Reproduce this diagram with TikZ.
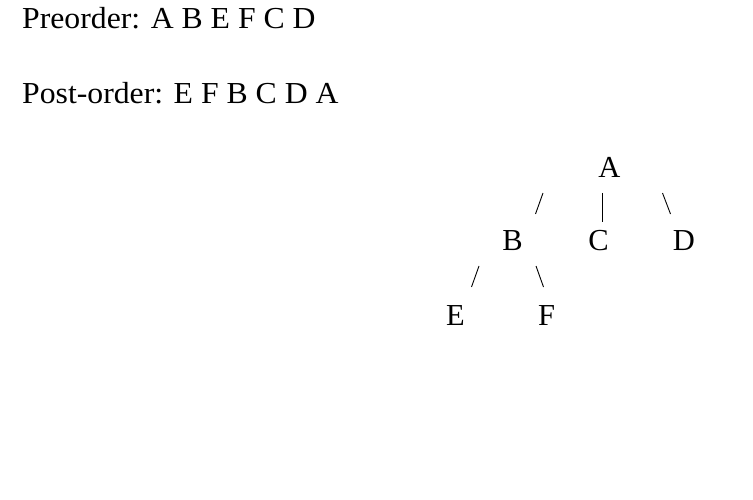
\documentclass[tikz,border=0pt]{standalone}
\usepackage{fontspec}
\setmainfont{Liberation Serif}
\begin{document}
\begin{tikzpicture}[x=1pt,y=-1pt,
  txt/.style={font=\fontsize{30.5}{36}\selectfont, inner sep=0pt, anchor=base west},
  letter/.style={font=\fontsize{30.5}{36}\selectfont, inner sep=0pt, anchor=base},
  edge/.style={line width=0.9pt, black}]
\useasboundingbox[fill=white] (0,0) rectangle (753,500);
\node[txt] (pre) at (22,28.3) {\scalebox{1.04}[1]{Preorder: A B E F C D}};
\node[txt] (post) at (22,103.3) {\scalebox{1.04}[1]{Post-order: E F B C D A}};
\node[letter] (A) at (609.5,178) {A};
\node[letter] (B) at (512.5,251) {B};
\node[letter] (C) at (598.5,251) {C};
\node[letter] (D) at (684,251) {D};
\node[letter] (E) at (455.5,325) {E};
\node[letter] (F) at (546.5,325) {F};
\coordinate (ab1) at (543,193); \coordinate (ab2) at (535.5,214);
\coordinate (ac1) at (602,193); \coordinate (ac2) at (602,222);
\coordinate (ad1) at (662.5,193); \coordinate (ad2) at (670.5,214);
\coordinate (be1) at (479,266); \coordinate (be2) at (471.5,287);
\coordinate (bf1) at (536,266); \coordinate (bf2) at (543.5,287);
\draw[edge] (ab1) -- (ab2);
\draw[edge] (ac1) -- (ac2);
\draw[edge] (ad1) -- (ad2);
\draw[edge] (be1) -- (be2);
\draw[edge] (bf1) -- (bf2);
\end{tikzpicture}
\end{document}
